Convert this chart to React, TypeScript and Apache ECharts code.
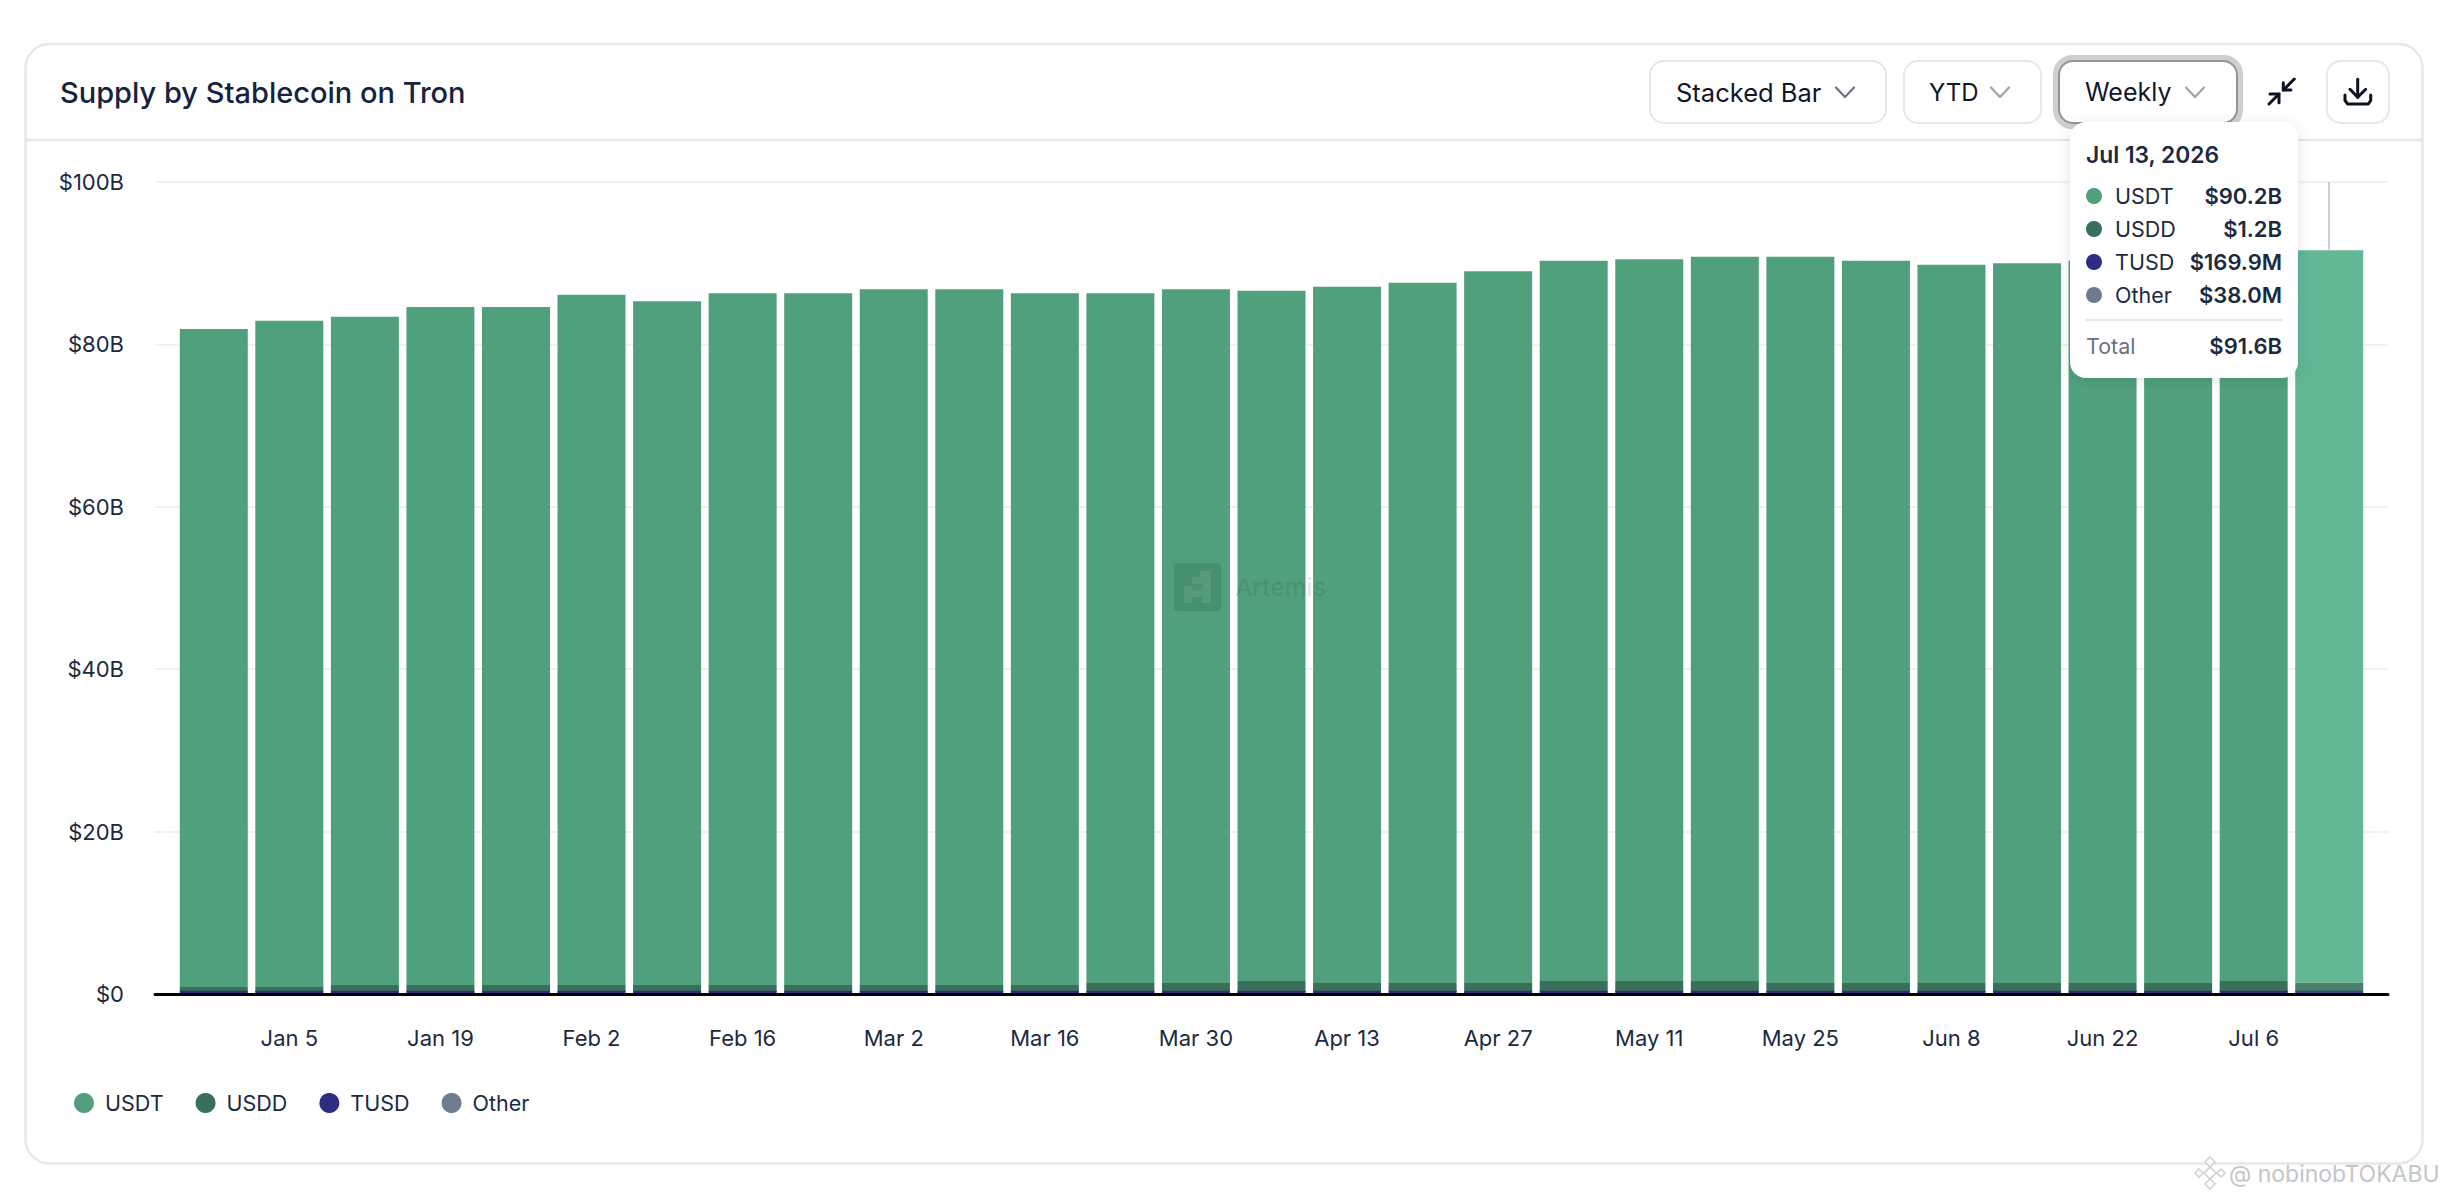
import React, { useEffect, useRef } from "react";
import * as echarts from "echarts";

const categories = [
  "Dec 29", "Jan 5", "Jan 12", "Jan 19", "Jan 26", "Feb 2", "Feb 9", "Feb 16", "Feb 23", "Mar 2",
  "Mar 9", "Mar 16", "Mar 23", "Mar 30", "Apr 6", "Apr 13", "Apr 20", "Apr 27", "May 4", "May 11",
  "May 18", "May 25", "Jun 1", "Jun 8", "Jun 15", "Jun 22", "Jun 29", "Jul 6", "Jul 13",
];
const usdt = [
  81.04, 82.04, 82.29, 83.49, 83.49, 84.99, 84.19, 85.19, 85.19, 85.69,
  85.69, 85.19, 84.95, 85.45, 85.0, 85.75, 86.25, 87.65, 88.7, 88.9,
  89.2, 89.45, 88.95, 88.45, 88.65, 88.95, 89.45, 89.6, 90.2,
];
const usdd = [
  0.65, 0.65, 0.9, 0.9, 0.9, 0.9, 0.9, 0.9, 0.9, 0.9,
  0.9, 0.9, 1.14, 1.14, 1.39, 1.14, 1.14, 1.14, 1.39, 1.39,
  1.39, 1.14, 1.14, 1.14, 1.14, 1.14, 1.14, 1.39, 1.2,
];
const tusd = [
  0.17, 0.17, 0.17, 0.17, 0.17, 0.17, 0.17, 0.17, 0.17, 0.17,
  0.17, 0.17, 0.17, 0.17, 0.17, 0.17, 0.17, 0.17, 0.17, 0.17,
  0.17, 0.17, 0.17, 0.17, 0.17, 0.17, 0.17, 0.17, 0.17,
];
const other = [
  0.04, 0.04, 0.04, 0.04, 0.04, 0.04, 0.04, 0.04, 0.04, 0.04,
  0.04, 0.04, 0.04, 0.04, 0.04, 0.04, 0.04, 0.04, 0.04, 0.04,
  0.04, 0.04, 0.04, 0.04, 0.04, 0.04, 0.04, 0.04, 0.04,
];
const legendNames = ["USDT", "USDD", "TUSD", "Other"];
const tooltipTitle = "Jul 13, 2026";
const tooltipValues = ["$90.2B", "$1.2B", "$169.9M", "$38.0M"];
const tooltipTotal = "$91.6B";
const hoveredCategory = "Jul 13";
const hoveredTotal = 91.6;

const FONT = "Inter, sans-serif";
const INK = "#1b2a41";
const GREEN = "#50a07e";
const GREEN_HI = "#62b795";
const DARK = "#3a6f5a";
const DARK_HI = "#4a8069";
const NAVY = "#2d2e82";
const NAVY_HI = "#3f4692";
const SLATE = "#6f7c8f";
const LINE = "#e5e7eb";
const dotColors = [GREEN, DARK, NAVY, SLATE];

const line = (points: number[][], stroke: string, lineWidth = 2.4, z = 20) => ({
  type: "polyline",
  z,
  shape: { points },
  style: { stroke, lineWidth, fill: "none", lineCap: "round", lineJoin: "round" },
});
const label = (x: number, y: number, text: string, fontSize: number, fill: string, fontWeight = 400, textAlign = "left", z = 20) => ({
  type: "text",
  x,
  y,
  z,
  style: { text, fontSize, fill, fontWeight, fontFamily: FONT, textAlign, textVerticalAlign: "middle" },
});
const box = (x0: number, y0: number, x1: number, y1: number, r: number, stroke: string, lineWidth = 2, fill = "#fff", z = 20) => ({
  type: "rect",
  z,
  shape: { x: x0, y: y0, width: x1 - x0, height: y1 - y0, r },
  style: { stroke, lineWidth, fill },
});
const chevron = (cx: number, color: string) => line([[cx - 9, 87.5], [cx, 97], [cx + 9, 87.5]], color, 2.2);
const diamond = (cx: number, cy: number, r: number) => ({
  type: "polygon",
  z: 120,
  shape: { points: [[cx, cy - r], [cx + r, cy], [cx, cy + r], [cx - r, cy]] },
  style: { fill: "rgba(255,255,255,0.7)", stroke: "#cfd2d4", lineWidth: 1.6 },
});

function buildGraphics() {
  const els: any[] = [];
  // card
  els.push(box(25.5, 44, 2422.5, 1163.5, 24, LINE, 2.4, "#fff", -5));
  els.push({ type: "line", z: -4, shape: { x1: 26, y1: 140, x2: 2422, y2: 140 }, style: { stroke: LINE, lineWidth: 2.4 } });
  els.push(label(60, 92, "Supply by Stablecoin on Tron", 29, "#15233f", 500));

  // controls
  els.push(box(1650, 61, 1886, 123, 14, LINE));
  els.push(label(1676, 92, "Stacked Bar", 25.5, "#0f172a"));
  els.push(chevron(1845, "#6b7280"));
  els.push(box(1904, 61, 2041, 123, 14, LINE));
  els.push(label(1929, 92, "YTD", 24, "#0f172a"));
  els.push(chevron(2000, "#9ca3af"));
  els.push(box(2056, 58, 2240, 126, 16, "#cfcfcf", 6));
  els.push(box(2059, 61, 2237, 123, 14, "#8f959e", 2));
  els.push(label(2085, 92, "Weekly", 25, "#0f172a"));
  els.push(chevron(2195, "#9ca3af"));

  // compress icon
  els.push(line([[2294.3, 79], [2283.3, 90]], "#0b1220", 3));
  els.push(line([[2283.3, 82.7], [2283.3, 90], [2291, 90]], "#0b1220", 3));
  els.push(line([[2269, 104], [2279, 94]], "#0b1220", 3));
  els.push(line([[2270, 94], [2279, 94], [2279, 102.7]], "#0b1220", 3));

  // download button
  els.push(box(2327, 61, 2389, 123, 14, LINE));
  els.push(line([[2357.7, 79.3], [2357.7, 97.3]], "#0b1220", 3));
  els.push(line([[2350, 89.3], [2357.7, 97.3], [2365.7, 89.3]], "#0b1220", 3));
  els.push(line([[2345, 95], [2345, 100.5], [2347.7, 104], [2368.3, 104], [2370.7, 100.5], [2370.7, 95]], "#0b1220", 3));

  // chart watermark
  els.push({
    type: "rect",
    z: 50,
    shape: { x: 1174, y: 563, width: 47, height: 48, r: 4 },
    style: { fill: "rgba(0,40,25,0.13)" },
  });
  els.push({
    type: "polygon",
    z: 51,
    shape: {
      points: [[1184, 586], [1192, 586], [1192, 577], [1200, 577], [1200, 571], [1211, 571], [1211, 603], [1202, 603], [1202, 597], [1192, 597], [1192, 603], [1184, 603]],
    },
    style: { fill: "rgba(255,255,255,0.09)" },
  });
  els.push({ type: "rect", z: 52, shape: { x: 1192, y: 584, width: 10, height: 6 }, style: { fill: "rgba(0,40,25,0.09)" } });
  els.push(label(1235, 587, "Artemis", 24.5, "rgba(20,60,45,0.13)", 500, "left", 50));

  // tooltip
  els.push({
    type: "rect",
    z: 100,
    shape: { x: 2070, y: 122, width: 228, height: 256, r: 16 },
    style: { fill: "#fff", shadowBlur: 14, shadowColor: "rgba(0,0,0,0.10)", shadowOffsetY: 2 },
  });
  els.push(label(2086, 154, tooltipTitle, 22.8, INK, 600, "left", 101));
  const rowY = [196, 229, 262, 295];
  legendNames.forEach((name, i) => {
    els.push({ type: "circle", z: 101, shape: { cx: 2094, cy: rowY[i], r: 8 }, style: { fill: dotColors[i] } });
    els.push(label(2115, rowY[i], name, 21.5, INK, 400, "left", 101));
    els.push(label(2282, rowY[i], tooltipValues[i], 22, INK, 600, "right", 101));
  });
  els.push({ type: "line", z: 101, shape: { x1: 2086, y1: 320, x2: 2282, y2: 320 }, style: { stroke: LINE, lineWidth: 2 } });
  els.push(label(2086, 346, "Total", 21.5, "#6b7280", 400, "left", 101));
  els.push(label(2282, 346, tooltipTotal, 22, INK, 600, "right", 101));

  // image credit overlay
  els.push(diamond(2210, 1173, 6));
  els.push(diamond(2210, 1162, 5));
  els.push(diamond(2210, 1184, 5));
  els.push(diamond(2199, 1173, 4));
  els.push(diamond(2221, 1173, 4));
  els.push(label(2229, 1174, "@ nobinobTOKABU", 23, "#c3c6c9", 400, "left", 120));
  return els;
}

function withHover(values: number[], hover: string) {
  return values.map((value, i) =>
    i === values.length - 1 ? { value, itemStyle: { color: hover } } : value,
  );
}

export default function App() {
  const ref = useRef<HTMLDivElement>(null);
  useEffect(() => {
    if (!ref.current) return;
    const chart = echarts.init(ref.current, undefined, { renderer: "svg" });
    const barBase = {
      type: "bar",
      stack: "total",
      xAxisIndex: 1,
      yAxisIndex: 1,
      barWidth: 68,
      silent: true,
    };
    chart.setOption({
      animation: false,
      backgroundColor: "#fff",
      textStyle: { fontFamily: FONT },
      grid: [
        { left: 155, right: 66, top: 182, bottom: 204 },
        { left: 176, right: 87, top: 182, bottom: 204 },
      ],
      legend: {
        left: 74,
        top: 1092,
        padding: 0,
        icon: "circle",
        itemWidth: 20,
        itemHeight: 20,
        itemGap: 32,
        selectedMode: false,
        data: legendNames,
        textStyle: { fontSize: 21.5, color: INK, fontFamily: FONT, padding: [0, 0, 0, 6] },
      },
      xAxis: [
        {
          type: "value",
          gridIndex: 0,
          min: 0,
          max: 1,
          z: 10,
          axisLine: { show: true, onZero: false, lineStyle: { color: "#000", width: 3 } },
          axisTick: { show: false },
          axisLabel: { show: false },
          splitLine: { show: false },
        },
        {
          type: "category",
          gridIndex: 1,
          data: categories,
          axisLine: { show: false },
          axisTick: { show: false },
          axisLabel: {
            interval: (i: number) => i % 2 === 1,
            margin: 33,
            fontSize: 22,
            color: INK,
            fontFamily: FONT,
            hideOverlap: false,
          },
          splitLine: { show: false },
        },
      ],
      yAxis: [
        {
          type: "value",
          gridIndex: 0,
          min: 0,
          max: 100,
          interval: 20,
          axisLine: { show: false },
          axisTick: { show: false },
          axisLabel: {
            margin: 31,
            fontSize: 22,
            color: INK,
            fontFamily: FONT,
            formatter: (v: number) => (v === 0 ? "$0" : `$${v}B`),
          },
          splitLine: { lineStyle: { color: "#f1f1f1", width: 2 } },
        },
        { type: "value", gridIndex: 1, min: 0, max: 100, show: false },
      ],
      series: [
        { ...barBase, name: "Other", itemStyle: { color: SLATE }, data: other },
        {
          ...barBase,
          name: "TUSD",
          z: 3,
          barMinHeight: 3,
          itemStyle: { color: NAVY },
          data: withHover(tusd, NAVY_HI),
        },
        { ...barBase, name: "USDD", itemStyle: { color: DARK }, data: withHover(usdd, DARK_HI) },
        {
          ...barBase,
          name: "USDT",
          itemStyle: { color: GREEN },
          data: withHover(usdt, GREEN_HI),
          markLine: {
            silent: true,
            symbol: "none",
            label: { show: false },
            lineStyle: { color: "#cfcfcf", width: 2, type: "solid" },
            data: [[
              { xAxis: hoveredCategory, yAxis: hoveredTotal },
              { xAxis: hoveredCategory, yAxis: 100 },
            ]],
          },
        },
      ],
      graphic: { elements: buildGraphics() },
    });
    return () => chart.dispose();
  }, []);
  return (
    <div
      ref={ref}
      style={{ position: "fixed", left: 0, top: 0, width: 2454, height: 1198, background: "#fff" }}
    />
  );
}
